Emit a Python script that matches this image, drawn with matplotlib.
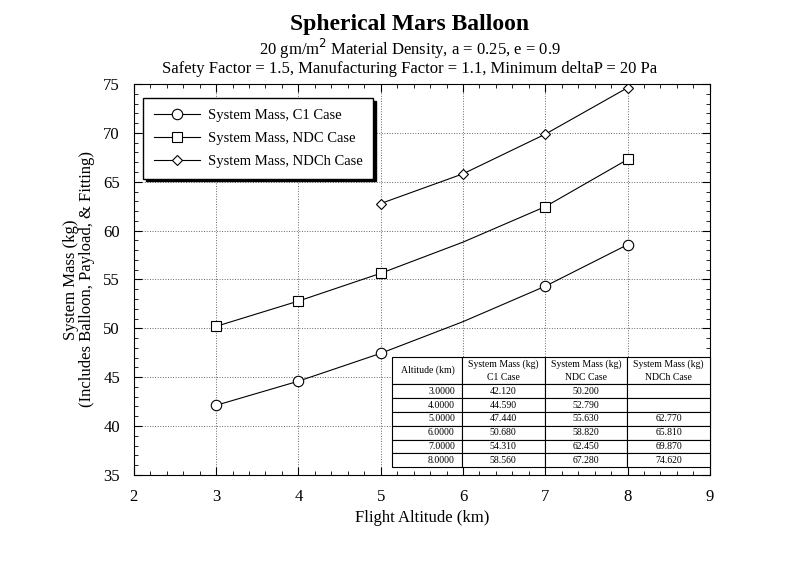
import matplotlib.pyplot as plt
from matplotlib.ticker import MultipleLocator

plt.rcParams['font.family'] = ['Liberation Serif', 'DejaVu Serif']

altitude = [3.0, 4.0, 5.0, 6.0, 7.0, 8.0]
mass_c1 = [42.120, 44.590, 47.440, 50.680, 54.310, 58.560]
mass_ndc = [50.200, 52.790, 55.630, 58.820, 62.450, 67.280]
alt_ndch = [5.0, 6.0, 7.0, 8.0]
mass_ndch = [62.770, 65.810, 69.870, 74.620]

fig = plt.figure(figsize=(7.87, 5.64), dpi=100)
ax = fig.add_axes([0.170, 0.158, 0.732, 0.693])

# markers are missing at 6 km on the first two curves in the original
ax.plot(altitude, mass_c1, color='k', lw=0.8, marker='o', ms=7.5, mfc='white',
        mec='k', mew=0.8, markevery=[0, 1, 2, 4, 5], label='System Mass, C1 Case')
ax.plot(altitude, mass_ndc, color='k', lw=0.8, marker='s', ms=7.5, mfc='white',
        mec='k', mew=0.8, markevery=[0, 1, 2, 4, 5], label='System Mass, NDC Case')
ax.plot(alt_ndch, mass_ndch, color='k', lw=0.8, marker='D', ms=5.5, mfc='white',
        mec='k', mew=0.8, label='System Mass, NDCh Case')

ax.set_xlim(2, 9)
ax.set_ylim(35, 75)
ax.xaxis.set_major_locator(MultipleLocator(1))
ax.xaxis.set_minor_locator(MultipleLocator(0.2))
ax.yaxis.set_major_locator(MultipleLocator(5))
ax.yaxis.set_minor_locator(MultipleLocator(1))
ax.tick_params(which='both', direction='in', top=True, right=True, labelsize=12)
ax.tick_params(which='major', length=6, pad=10)
ax.tick_params(which='minor', length=3)
ax.grid(True, which='major', linestyle=':', color='0.4', lw=0.7)
for s in ax.spines.values():
    s.set_linewidth(0.8)

ax.set_xlabel('Flight Altitude (km)', fontsize=12)
ax.set_ylabel('System Mass (kg)\n(Includes Balloon, Payload, & Fitting)', fontsize=12,
              linespacing=1.0, labelpad=6)

leg = ax.legend(loc='upper left', bbox_to_anchor=(0.0156, 0.964), borderaxespad=0,
                fontsize=10.5, fancybox=False, edgecolor='k', framealpha=1,
                handlelength=3.2, handletextpad=0.5, borderpad=0.75,
                labelspacing=0.65, shadow={'color': 'k', 'alpha': 1})
leg.get_frame().set_linewidth(1.0)

col_labels = ['Altitude (km)', 'System Mass (kg)\nC1 Case',
              'System Mass (kg)\nNDC Case', 'System Mass (kg)\nNDCh Case']
cells = []
for i, a in enumerate(altitude):
    ndch = ''
    if a in alt_ndch:
        ndch = '%.3f' % mass_ndch[alt_ndch.index(a)]
    cells.append(['%.4f' % a, '%.3f' % mass_c1[i], '%.3f' % mass_ndc[i], ndch])

tbl = ax.table(cellText=cells, colLabels=col_labels,
               bbox=[0.448, 0.02, 0.552, 0.282], colWidths=[0.22, 0.26, 0.26, 0.26],
               zorder=5)
tbl.auto_set_font_size(False)
tbl.set_fontsize(7)
for (r, c), cell in tbl.get_celld().items():
    cell.set_linewidth(0.8)
    cell.set_facecolor('white')
    if r == 0:
        cell.set_height(cell.get_height() * 2)
        cell.get_text().set_linespacing(1.6)
    if c == 0:
        cell._loc = 'right'
        cell.get_text().set_ha('right')
    else:
        cell.get_text().set_ha('center')

fig.text(0.521, 0.957, 'Spherical Mars Balloon', ha='center', va='center',
         fontsize=17, fontweight='bold')
fig.text(0.521, 0.913, r'20 gm/m$^2$ Material Density, a = 0.25, e = 0.9',
         ha='center', va='center', fontsize=12)
fig.text(0.521, 0.878, 'Safety Factor = 1.5, Manufacturing Factor = 1.1, Minimum deltaP = 20 Pa',
         ha='center', va='center', fontsize=12)

fig.savefig('out.png', dpi=100)
